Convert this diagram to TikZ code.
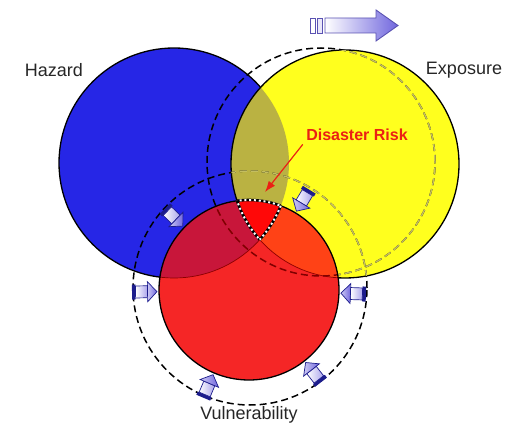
\documentclass[tikz,border=0pt]{standalone}
\usepackage{fontspec}
\setmainfont{Liberation Sans}
\usetikzlibrary{arrows.meta}

\definecolor{hazardblue}{RGB}{38,38,230}
\definecolor{exposureyellow}{RGB}{255,255,30}
\definecolor{overlapolive}{RGB}{186,178,66}
\definecolor{vulnred}{RGB}{245,38,38}
\definecolor{bluered}{RGB}{200,22,58}
\definecolor{yellowred}{RGB}{255,66,22}
\definecolor{riskred}{RGB}{255,8,8}
\definecolor{paledash}{RGB}{196,190,96}
\definecolor{risktext}{RGB}{235,32,20}
\definecolor{arrowpurple}{RGB}{112,102,222}
\definecolor{tailblue}{RGB}{28,28,140}

\tikzset{
	pusharrow/.pic={
		\fill[tailblue] (-13,-7.5) rectangle (-9.5,7.5);
		\draw[draw=tailblue, line width=0.7pt, left color=white, right color=arrowpurple!60] (-9.5,-6) rectangle (2.5,6);
		\draw[draw=tailblue, line width=0.7pt, left color=arrowpurple!35, right color=arrowpurple] (2.5,-10) -- (12,0) -- (2.5,10) -- cycle;
	}
}

\begin{document}
\begin{tikzpicture}[x=1pt, y=1pt,
		rim/.style={draw=black, line width=1.3pt},
		dashring/.style={draw=black, dash pattern=on 7pt off 4pt, line width=1.5pt},
		riskedge/.style={draw=black, line width=2.6pt},
		riskdots/.style={draw=white, line width=2pt, dash pattern=on 2pt off 2.8pt},
		label/.style={font=\fontsize{18}{20}\selectfont, text=black!85},
		riskpointer/.style={draw=risktext, line width=1.2pt, -{Latex[length=11pt, width=8pt]}}]
	\useasboundingbox (0,0) rectangle (532,431);
	\def\rh{115pt}
	\def\re{114pt}
	\def\rv{90pt}
	\def\ra{117pt}
	\def\rb{114pt}
	\coordinate (hz) at (174,268);
	\coordinate (ex) at (345,267);
	\coordinate (vu) at (249,141);
	\coordinate (da) at (250,143);
	\coordinate (db) at (321,269);

	\fill[hazardblue] (hz) circle (\rh);
	\draw[rim] (hz) circle (\rh);
	\fill[exposureyellow] (ex) circle (\re);
	\begin{scope}
		\clip (hz) circle (\rh);
		\fill[overlapolive] (ex) circle (\re);
	\end{scope}
	\draw[rim] (ex) circle (\re);

	\draw[dashring] (da) circle (\ra);
	\draw[dashring] (db) circle (\rb);
	\begin{scope}
		\clip (ex) circle (\re);
		\draw[dashring, draw=paledash] (da) circle (\ra);
		\draw[dashring, draw=paledash] (db) circle (\rb);
	\end{scope}

	\fill[vulnred] (vu) circle (\rv);
	\begin{scope}
		\clip (vu) circle (\rv);
		\fill[bluered] (hz) circle (\rh);
		\fill[yellowred] (ex) circle (\re);
		\draw[dashring, draw=black!50!red] (db) circle (\rb);
		\draw[draw=black!45!red, line width=0.7pt] (hz) circle (\rh);
		\draw[draw=black!45!red, line width=0.7pt] (ex) circle (\re);
		\clip (hz) circle (\rh);
		\fill[riskred] (ex) circle (\re);
	\end{scope}
	\draw[rim] (vu) circle (\rv);

	\begin{scope}
		\clip (hz) circle (\rh);
		\clip (ex) circle (\re);
		\draw[riskedge] (vu) circle (\rv);
		\draw[riskdots] (vu) circle (\rv);
	\end{scope}
	\begin{scope}
		\clip (vu) circle (\rv);
		\clip (hz) circle (\rh);
		\draw[riskedge] (ex) circle (\re);
		\draw[riskdots] (ex) circle (\re);
	\end{scope}
	\begin{scope}
		\clip (vu) circle (\rv);
		\clip (ex) circle (\re);
		\draw[riskedge] (hz) circle (\rh);
		\draw[riskdots] (hz) circle (\rh);
	\end{scope}

	\foreach \a in {136,59,181,358,247,308}
		\path (vu) ++(\a:104) pic[rotate=\a+180] {pusharrow};

	\draw[draw=arrowpurple!80!black, line width=0.9pt, left color=white, right color=arrowpurple] (325,398) -- (376,398) -- (376,390) -- (398,405.5) -- (376,421) -- (376,413) -- (325,413) -- cycle;
	\draw[draw=arrowpurple!80!black, line width=0.9pt, fill=white] (310,398) rectangle (315,413);
	\draw[draw=arrowpurple!80!black, line width=0.9pt, fill=arrowpurple!15] (317,398) rectangle (322,413);

	\node[label] (hazardlbl) at (54,361) {Hazard};
	\node[label] (exposurelbl) at (464,361) {Exposure};
	\node[label] (vulnlbl) at (249,16) {Vulnerability};
	\node[font=\fontsize{16}{18}\selectfont\bfseries, text=risktext] (risklbl) at (357,296) {Disaster Risk};
	\coordinate (risktip) at (265,239);
	\draw[riskpointer] (risklbl.south west) -- (risktip);
\end{tikzpicture}
\end{document}
